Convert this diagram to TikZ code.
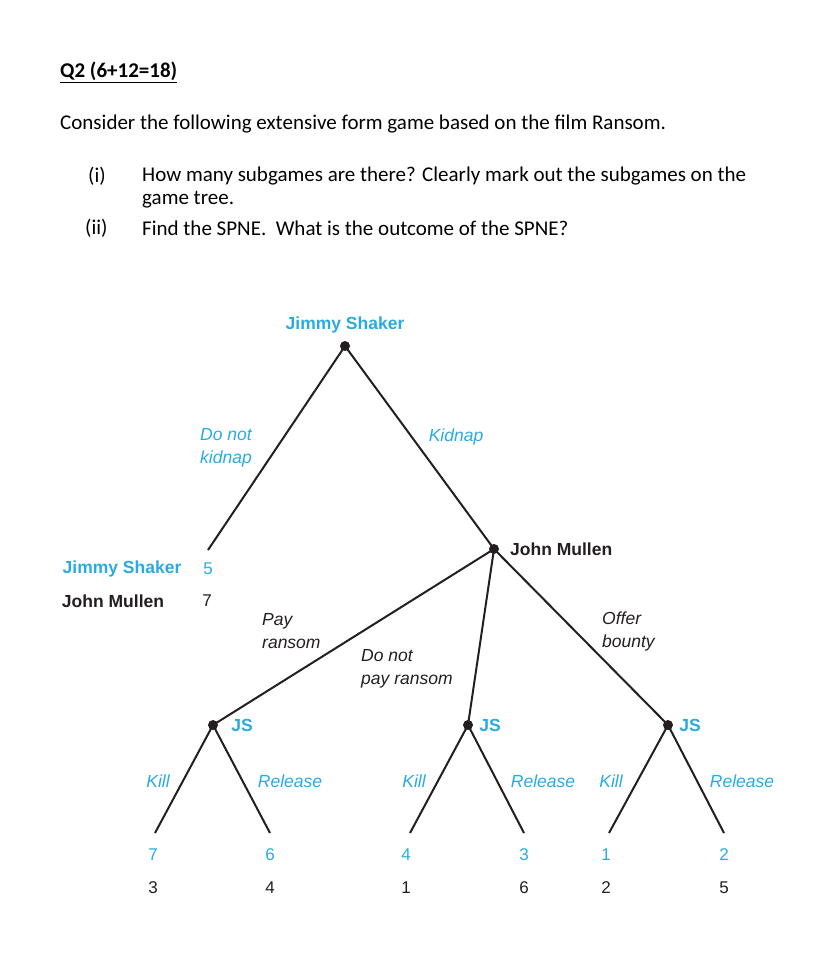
\documentclass[tikz,border=0pt]{standalone}
\usepackage{fontspec}
\setmainfont{Carlito}
\newfontfamily\lab{Liberation Sans}
\definecolor{jsblue}{HTML}{29ABE2}
\definecolor{dk}{HTML}{231F20}
\begin{document}
\begin{tikzpicture}[x=1pt,y=-1pt,
  hd/.style={font=\fontsize{21}{25}\selectfont,anchor=west,inner sep=0},
  dot/.style={circle,fill=dk,inner sep=0,minimum size=10pt},
  edge/.style={draw=dk,line width=2pt},
  pl/.style={font=\lab\bfseries\fontsize{17.5}{20}\selectfont,inner sep=0},
  act/.style={font=\lab\itshape\fontsize{17.5}{23}\selectfont,inner sep=0,align=left},
  pay/.style={font=\lab\fontsize{17}{20}\selectfont,inner sep=0}]
\useasboundingbox (0,0) rectangle (830,962);
\node[hd] (t0) at (60,72) {\textbf{\underline{Q2 (6+12=18)}}};
\node[hd] (t1) at (60,124) {Consider the following extensive form game based on the film Ransom.};
\node[hd] (i1) at (88,176) {(i)};
\node[hd] (q1) at (142,176) {How many subgames are there? Clearly mark out the subgames on the};
\node[hd] (q1b) at (142,200) {game tree.};
\node[hd] (i2) at (85,228) {(ii)};
\node[hd] (q2) at (142,228) {Find the SPNE.\ \ What is the outcome of the SPNE?};

\node[dot] (r) at (345,346) {};
\coordinate (lt) at (208,550);
\node[dot] (jm) at (494,549) {};
\node[dot] (a) at (213,725) {};
\node[dot] (b) at (468,725) {};
\node[dot] (c) at (668,725) {};
\coordinate (a1) at (155,833); \coordinate (a2) at (270,833);
\coordinate (b1) at (410,833); \coordinate (b2) at (524,833);
\coordinate (c1) at (609,833); \coordinate (c2) at (724,833);
\draw[edge] (r.center)--(lt);
\draw[edge] (r.center)--(jm.center);
\foreach \n in {a,b,c} {\draw[edge] (jm.center)--(\n.center);
  \draw[edge] (\n.center)--(\n1); \draw[edge] (\n.center)--(\n2);}

\node[pl,text=jsblue] (pr) at (345,325) {Jimmy Shaker};
\node[pl,text=dk,anchor=west] (pjm) at (510,549) {John Mullen};
\node[pl,text=jsblue] (ja) at (242,725) {JS};
\node[pl,text=jsblue] (jb) at (490,725) {JS};
\node[pl,text=jsblue] (jc) at (690,725) {JS};

\node[act,text=jsblue,anchor=north west] (dnk) at (200,428) {Do not\\kidnap};
\node[act,text=jsblue] (kid) at (456,437) {Kidnap};
\node[act,text=dk,anchor=north west] (pay) at (262,613) {Pay\\ransom};
\node[act,text=dk,anchor=north west] (dnp) at (361,649) {Do not\\pay ransom};
\node[act,text=dk,anchor=north west] (ob) at (602,612) {Offer\\bounty};
\node[act,text=jsblue] (k1) at (158,781) {Kill};
\node[act,text=jsblue] (r1) at (290,781) {Release};
\node[act,text=jsblue] (k2) at (414,781) {Kill};
\node[act,text=jsblue] (r2) at (543,781) {Release};
\node[act,text=jsblue] (k3) at (611,781) {Kill};
\node[act,text=jsblue] (r3) at (742,781) {Release};

\node[pl,text=jsblue] (ljs) at (122,569) {Jimmy Shaker};
\node[pay,text=jsblue] (l5) at (208,569) {5};
\node[pl,text=dk] (ljm) at (113,601) {John Mullen};
\node[pay,text=dk] (l7) at (207,601) {7};

\foreach \x/\u/\v [count=\i] in {153/7/3,270/6/4,406/4/1,524/3/6,606/1/2,724/2/5} {
  \node[pay,text=jsblue] (u\i) at (\x,855) {\u};
  \node[pay,text=dk] (v\i) at (\x,888) {\v};}
\end{tikzpicture}
\end{document}
